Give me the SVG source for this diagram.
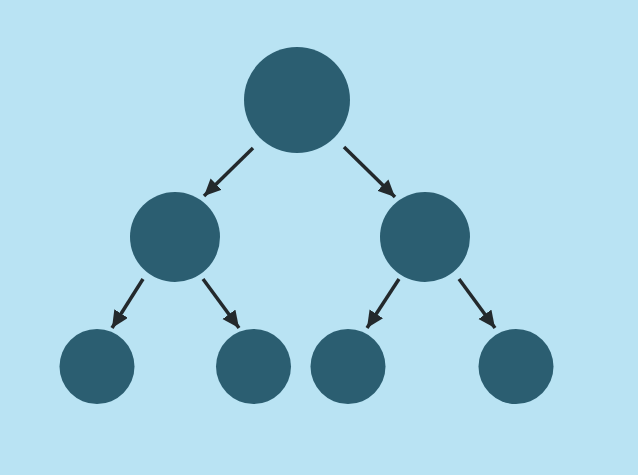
<svg xmlns="http://www.w3.org/2000/svg" width="638" height="475" viewBox="0 0 638 475">
<defs>
<marker id="ah" markerUnits="userSpaceOnUse" markerWidth="19" markerHeight="17" refX="17" refY="8" orient="auto">
<path d="M0,0 L17,8 L0,16 Z" fill="#23292c"/>
</marker>
<style>
.n{fill:#2b5e71}
.e{stroke:#23292c;stroke-width:3.5;fill:none;marker-end:url(#ah)}
</style>
</defs>
<rect width="638" height="475" fill="#b9e3f3"/>
<g id="edges">
<line class="e" x1="253" y1="148" x2="204" y2="196"/>
<line class="e" x1="344" y1="147" x2="395" y2="197"/>
<line class="e" x1="143" y1="279" x2="112" y2="328"/>
<line class="e" x1="203" y1="279" x2="239" y2="328"/>
<line class="e" x1="399" y1="279" x2="367" y2="328"/>
<line class="e" x1="459" y1="279" x2="495" y2="328"/>
</g>
<g id="root"><circle class="n" cx="297" cy="100" r="53"/></g>
<g id="left"><circle class="n" cx="175" cy="237" r="45"/></g>
<g id="right"><circle class="n" cx="425" cy="237" r="45"/></g>
<g id="leaf1"><circle class="n" cx="97" cy="366.5" r="37.5"/></g>
<g id="leaf2"><circle class="n" cx="253.5" cy="366.5" r="37.5"/></g>
<g id="leaf3"><circle class="n" cx="348" cy="366.5" r="37.5"/></g>
<g id="leaf4"><circle class="n" cx="516" cy="366.5" r="37.5"/></g>
</svg>
